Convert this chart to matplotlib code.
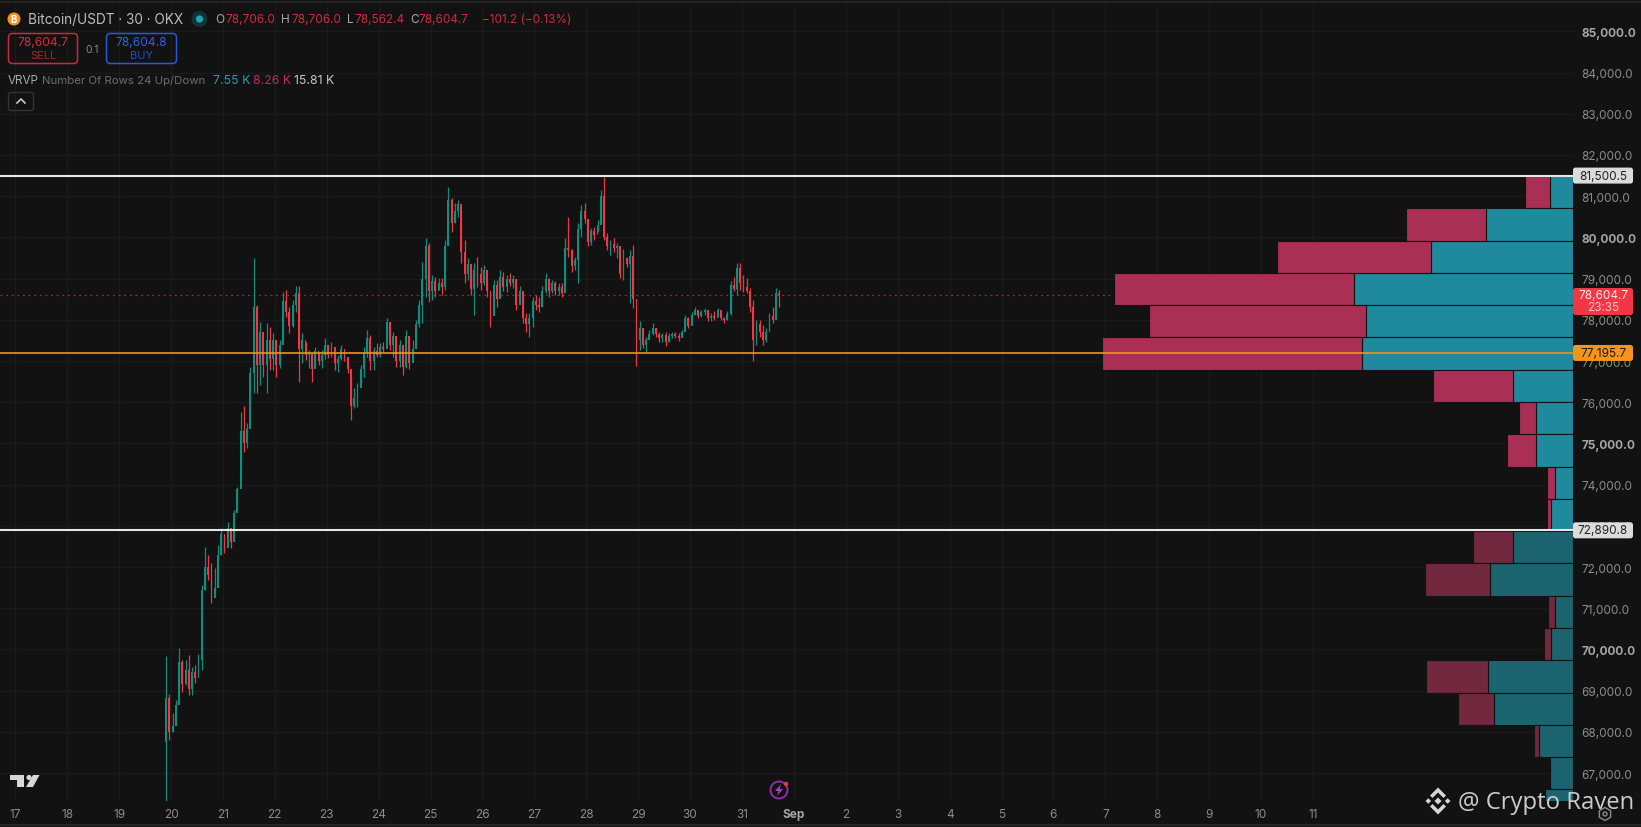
import numpy as np
import matplotlib
matplotlib.use("Agg")
import matplotlib.pyplot as plt
from matplotlib.patches import Circle, Polygon, FancyBboxPatch
from matplotlib.transforms import Affine2D

plt.rcParams['font.family'] = ['Inter', 'DejaVu Sans']

# candles (one bar per 1.5 hours, day number: Aug 20 = 20, Sep 1 = 32)
first_bar = 19.904
bar_step = 0.0625
first_open = 67760

highs = [
    69840,68930,68450,68770,70030,69740,69740,69860,69580,69620,
    69900,71560,72490,72290,72090,71970,72530,72940,72740,73100,
    72860,73380,73950,75770,75900,75490,76860,79490,78360,77950,
    77470,77920,77830,77670,77350,77510,78680,78720,78320,78480,
    78810,78810,77670,77470,77270,77190,77350,77230,77270,77550,
    77350,77450,77270,77150,77380,77190,77030,76700,76340,76460,
    76900,77350,77750,77630,77350,77430,77430,77470,78040,77790,
    77710,77430,77510,77270,77750,77590,77510,78000,78480,79410,
    79980,79860,79090,79050,79010,79010,79940,81230,80950,80830,
    80910,80670,79940,79490,79170,79370,79530,79290,79330,79010,
    78640,78970,78970,79210,79170,79090,79130,79090,78850,78810,
    78690,78160,78160,78560,78600,78560,78820,79140,79010,78970,
    78930,78890,78890,79980,80500,79730,79530,80340,80790,80830,
    80420,80220,80260,80420,81150,81470,80100,79940,79980,79860,
    79490,79730,79530,79690,79820,78280,77960,77750,77590,77750,
    77920,77790,77710,77670,77710,77670,77710,77710,77670,77750,
    78120,78080,78200,78320,78200,78240,78280,78160,78160,78220,
    78280,78200,78080,78220,78930,79050,79370,79390,79090,79010,
    78760,78480,77990,78000,77880,77790,78160,78320,78760,78720,
]
lows = [
    66310,67800,68000,68370,68930,68970,69130,68900,68900,69180,
    69340,69500,71440,71680,71120,71320,72170,72290,72330,72530,
    72450,72860,73380,74350,74800,74900,75650,76220,76220,76420,
    76620,76220,76780,76780,76620,76820,77670,78080,77670,77830,
    78200,76500,76940,77030,76820,76500,76860,76900,76820,77060,
    77070,77100,76780,76740,77030,76990,76700,75570,75850,75890,
    76460,76620,77100,76780,76780,77100,77100,77230,77550,77270,
    77100,76860,76860,76660,76820,76800,77030,77430,77830,77920,
    78560,78440,78480,78560,78720,78600,78720,80180,80140,80340,
    80500,79370,78890,78970,78600,78120,78800,78720,78850,78560,
    77830,78480,78320,78760,78690,78680,78810,78770,78240,78600,
    77920,77710,77590,77830,78240,78200,78320,78640,78560,78640,
    78600,78600,78560,78760,79530,79170,79210,78900,80020,80340,
    79780,79820,79940,80140,80340,79940,79700,79570,79650,79490,
    79010,78970,79290,78400,78280,76880,77270,77310,77230,77550,
    77630,77590,77470,77450,77360,77470,77550,77550,77490,77590,
    77750,77790,78000,78120,78040,78080,78120,77980,77980,78000,
    78080,78000,77930,78000,78120,78690,78600,78720,78680,78640,
    78200,76990,77390,77590,77390,77450,77750,77920,78320,78320,
]
closes = [
    68820,68000,68150,68650,69700,69150,69500,69050,69450,69300,
    69750,71450,72000,71800,71250,71500,72300,72800,72450,72950,
    72600,73300,73900,75300,75000,75350,76700,78300,76900,77700,
    76900,77500,77050,77500,76900,77400,78450,78200,77850,78350,
    78650,77300,77500,77150,77200,76800,77250,77000,77150,77400,
    77150,77350,76950,77050,77300,77100,76800,75900,76100,76350,
    76800,77200,77550,77000,77250,77150,77350,77300,77950,77400,
    77600,77000,77400,76850,77600,76950,77300,77900,78350,79000,
    79800,78700,78950,78700,78900,78800,79800,80900,80350,80650,
    80800,79650,79100,79350,78750,79200,79100,78900,79200,78700,
    78100,78850,78500,79050,78800,79000,78900,79000,78350,78700,
    78050,77900,78050,78450,78350,78300,78700,79000,78700,78900,
    78700,78800,78650,79750,79700,79300,79450,80200,80650,80450,
    79900,80150,80050,80300,81000,80000,79800,79850,79750,79800,
    79100,79500,79350,79550,78500,77500,77800,77400,77500,77650,
    77800,77650,77550,77620,77450,77600,77650,77600,77550,77700,
    78050,77850,78120,78250,78100,78200,78230,78050,78100,78050,
    78230,78050,78000,78150,78850,78750,79250,78900,78800,78700,
    78300,77500,77900,77700,77500,77700,78100,78000,78650,78604.7,
]

# volume profile rows, top to bottom
row_tops = [81490,80706,79923,79139,78356,77572,76789,76005,75222,74438,
            73655,72871,72088,71304,70521,69737,68954,68170,67387,66603]
row_height = 783.5
up_volume = [108,418,678,1048,988,1008,288,178,178,88,
             103,288,398,88,103,408,378,163,108,133]
down_volume = [120,380,735,1145,1040,1240,380,80,135,35,
               20,190,310,30,35,295,170,25,0,0]
value_area_rows = 11

# price levels
range_high = 81500.5
range_low = 72890.8
poc_level = 77195.7
last_price = 78604.7

price_ticks = list(range(67000, 86000, 1000))
day_ticks = list(range(17, 43))
day_labels = ['17','18','19','20','21','22','23','24','25','26','27','28','29','30','31',
              'Sep','2','3','4','5','6','7','8','9','10','11']

BG = '#121212'
GRID = '#1b1b1b'
TXT = '#8c8c8c'
GREEN = '#0b8f7e'
RED = '#f23645'

W, H = 1641, 828
fig = plt.figure(figsize=(W / 100, H / 100), dpi=100, facecolor=BG)

# pixel coordinates of the figure (y up)
pixel = Affine2D().scale(1 / W, 1 / H) + fig.transFigure


def label(px, py, s, color=TXT, size=9, ha='left', weight='normal', **kw):
    return fig.text(px / W, 1 - py / H, s, color=color, fontsize=size, ha=ha, va='center',
                    fontweight=weight, **kw)


def box(x0, y0, x1, y1, face='none', edge='none', lw=1, rad=2.5, z=5):
    p = FancyBboxPatch((x0, H - y1), x1 - x0, y1 - y0, boxstyle=f'round,pad=0,rounding_size={rad}',
                       transform=pixel, facecolor=face, edgecolor=edge, linewidth=lw, zorder=z)
    fig.add_artist(p)


def shape(points, color, z=9):
    # points are given from the top-left of the picture
    pts = [(x, H - y) for x, y in points]
    fig.add_artist(Polygon(pts, transform=pixel, facecolor=color, edgecolor='none', zorder=z))


ax = fig.add_axes([0, 1 - 802 / H, 1573 / W, 796 / H], facecolor=BG)
ax.set_xlim(16.705, 47.01)
ax.set_ylim(66322, 85640)

ax.set_yticks(price_ticks)
ax.set_yticklabels([f'{p:,.1f}' for p in price_ticks])
ax.yaxis.tick_right()
ax.set_xticks(day_ticks)
ax.set_xticklabels(day_labels)
ax.tick_params(axis='both', length=0, colors=TXT, labelsize=8.5)
ax.tick_params(axis='y', pad=6)
ax.tick_params(axis='x', pad=5)
for t, p in zip(ax.get_yticklabels(), price_ticks):
    if p % 5000 == 0:
        t.set_fontweight('bold')
        t.set_color('#a6a6a6')
for t in ax.get_xticklabels():
    if t.get_text() == 'Sep':
        t.set_fontweight('bold')
        t.set_color('#a6a6a6')
ax.grid(True, color=GRID, linewidth=1)
ax.set_axisbelow(True)
for s in ax.spines.values():
    s.set_visible(False)

# candles
times = first_bar + bar_step * np.arange(len(closes))
closes_a = np.array(closes, dtype=float)
opens_a = np.r_[first_open, closes_a[:-1]]
colors = [GREEN if c >= o else RED for o, c in zip(opens_a, closes_a)]
ax.vlines(times, lows, highs, colors=colors, linewidth=0.9, zorder=3)
ax.bar(times, np.abs(closes_a - opens_a), bottom=np.minimum(opens_a, closes_a), width=0.036,
       color=colors, linewidth=0, zorder=4)

ax.axhline(last_price, color='#a8283a', linewidth=0.9, linestyle=(0, (1.5, 3)), zorder=2)

# volume profile, sharing the price scale and growing left from the pane edge
vp = fig.add_axes(ax.get_position(), facecolor='none', sharey=ax)
vp.set_xlim(7515, 0)
vp.axis('off')
ups = np.array(up_volume)
downs = np.array(down_volume)
bottoms = np.array(row_tops) - row_height
up_col = ['#1f8a9e' if i < value_area_rows else '#1c6470' for i in range(len(ups))]
dn_col = ['#a92f55' if i < value_area_rows else '#72283f' for i in range(len(ups))]
vp.barh(bottoms, ups, height=row_height, align='edge', color=up_col, edgecolor=BG, linewidth=0.8, zorder=5)
vp.barh(bottoms, downs, left=ups, height=row_height, align='edge', color=dn_col, edgecolor=BG, linewidth=0.8, zorder=5)

# levels above everything
vp.axhline(range_high, color='#e6e6e6', linewidth=1.5, zorder=6)
vp.axhline(range_low, color='#e6e6e6', linewidth=1.5, zorder=6)
vp.axhline(poc_level, color='#f0921e', linewidth=1.2, zorder=6)
ax.set_ylim(66322, 85640)


# price scale tags
def tag(level, s, face, color, half=8):
    py = 156 + (82000 - level) / 24.27
    box(1573, py - half, 1633, py + half, face=face, z=7)
    label(1603, py, s, color=color, size=8.5, ha='center', zorder=8)


tag(range_high, '81,500.5', '#dcdcdc', '#222222')
tag(range_low, '72,890.8', '#dcdcdc', '#222222')
tag(poc_level, '77,195.7', '#f7931a', '#1a1a1a')
box(1573, 289, 1633, 316, face=RED, z=7)
label(1603, 296, '78,604.7', color='#ffe6e8', size=8.5, ha='center', zorder=8)
label(1603, 308, '23:35', color='#ffc2c8', size=8.5, ha='center', zorder=8)

# header
fig.add_artist(Circle((14, H - 20), 6.5, transform=pixel, facecolor='#f7931a', edgecolor='none'))
label(14, 20, 'B', color='white', size=7, ha='center', weight='bold')
label(28, 20, 'Bitcoin/USDT · 30 · OKX', color='#bdbdbd', size=9.8)
fig.add_artist(Circle((199.5, H - 20), 8, transform=pixel, facecolor='#123436', edgecolor='none'))
fig.add_artist(Circle((199.5, H - 20), 3.6, transform=pixel, facecolor='#1fa3b0', edgecolor='none'))
for px, s, c in [(215, 'O', '#a8a8a8'), (225, '78,706.0', '#d02b3d'), (281, 'H', '#a8a8a8'),
                 (291, '78,706.0', '#d02b3d'), (347, 'L', '#a8a8a8'), (354, '78,562.4', '#d02b3d'),
                 (410, 'C', '#a8a8a8'), (418, '78,604.7', '#d02b3d'),
                 (482, '−101.2 (−0.13%)', '#d02b3d')]:
    label(px, 20, s, color=c, size=8.5)

box(8.5, 34.5, 77.5, 64.5, edge='#c92a3c', lw=1.1, rad=4)
label(43, 43, '78,604.7', color='#d92c40', size=8.6, ha='center')
label(43, 56, 'SELL', color='#a82433', size=8, ha='center')
label(92, 50, '0.1', color='#8c8c8c', size=7.4, ha='center')
box(106.5, 34.5, 176.5, 64.5, edge='#2a56d8', lw=1.1, rad=4)
label(141.5, 43, '78,604.8', color='#2f62e6', size=8.6, ha='center')
label(141.5, 56, 'BUY', color='#274fb8', size=8, ha='center')

label(8, 80.5, 'VRVP', color='#a8a8a8', size=8.4)
label(42, 80.5, 'Number Of Rows 24 Up/Down', color='#6e6e6e', size=8.2)
label(213, 80.5, '7.55 K', color='#1f9fb0', size=8.8)
label(253, 80.5, '8.26 K', color='#c12c5c', size=8.8)
label(294, 80.5, '15.81 K', color='#c8c8c8', size=8.8)
box(8.5, 93.5, 33.5, 111.5, edge='#333333', lw=1, rad=2)
fig.add_artist(plt.Line2D(np.array([17, 21, 25]) / W, 1 - np.array([104, 100, 104]) / H,
                          color='#c8c8c8', linewidth=1.2, transform=fig.transFigure))

# bottom left logo
shape([(10, 776), (24, 776), (24, 788), (17, 788), (17, 781), (10, 781)], '#d8d8d8')
fig.add_artist(Circle((29, H - 778.5), 2.6, transform=pixel, facecolor='#d8d8d8', edgecolor='none', zorder=9))
shape([(33, 776), (39.5, 776), (33, 788), (26, 788)], '#d8d8d8')

# lightning mark
fig.add_artist(Circle((779, H - 791), 8.5, transform=pixel, facecolor='none', edgecolor='#8e2fa8', linewidth=1.4))
fig.add_artist(Circle((786, H - 785), 2.2, transform=pixel, facecolor='#f23645', edgecolor='none'))
shape([(781, 785), (775, 792), (778.5, 792), (777, 797), (783, 790), (779.5, 790)], '#a63fc4')

# watermark
cx, cy = 1438, 802
shape([(cx - 3.5, cy), (cx, cy - 3.5), (cx + 3.5, cy), (cx, cy + 3.5)], '#d6d6d6')
for sx in (-1, 1):
    shape([(cx + sx * 12.5, cy), (cx + sx * 9.7, cy - 2.8), (cx + sx * 6.9, cy), (cx + sx * 9.7, cy + 2.8)], '#d6d6d6')
for sy in (-1, 1):
    shape([(cx, cy + sy * 13.5), (cx + 8, cy + sy * 5.5), (cx + 5.5, cy + sy * 3), (cx, cy + sy * 8.5),
           (cx - 5.5, cy + sy * 3), (cx - 8, cy + sy * 5.5)], '#d6d6d6')
label(1458, 803, '@ Crypto Raven', color='#d6d6d6', size=17.2, family='Open Sans', zorder=9, alpha=0.95)

# settings icon
a = np.deg2rad(np.arange(30, 390, 60))
fig.add_artist(Polygon(np.c_[1605 + 6.5 * np.cos(a), H - 815 + 6.5 * np.sin(a)], transform=pixel,
                       facecolor='none', edgecolor='#8c8c8c', linewidth=1))
fig.add_artist(Circle((1605, H - 815), 2, transform=pixel, facecolor='none', edgecolor='#8c8c8c', linewidth=1))

# thin frame lines at the top and bottom of the window
fig.add_artist(plt.Line2D([0, 1], [1 - 3 / H, 1 - 3 / H], color='#242424', linewidth=1.5))
fig.add_artist(plt.Line2D([0, 1], [1 - 826 / H, 1 - 826 / H], color='#242424', linewidth=1.5))

fig.savefig('out.png', dpi=100, facecolor=BG)
